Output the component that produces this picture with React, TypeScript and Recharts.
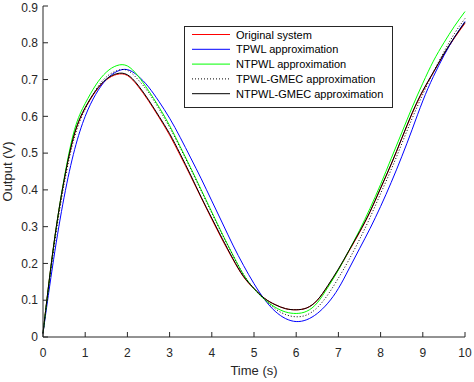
import React from 'react';
import { LineChart, Line, XAxis, YAxis, Legend } from 'recharts';

const time = [0, 0.25, 0.5, 0.75, 1, 1.25, 1.5, 1.75, 2, 2.25, 2.5, 2.75, 3, 3.25, 3.5, 3.75, 4, 4.25, 4.5, 4.75, 5, 5.25, 5.5, 5.75, 6, 6.25, 6.5, 6.75, 7, 7.25, 7.5, 7.75, 8, 8.25, 8.5, 8.75, 9, 9.25, 9.5, 9.75, 10];

const originalSystem = [0.01, 0.245, 0.425, 0.553, 0.622, 0.668, 0.699, 0.714, 0.711, 0.682, 0.642, 0.597, 0.549, 0.494, 0.437, 0.378, 0.32, 0.264, 0.211, 0.164, 0.131, 0.105, 0.088, 0.077, 0.074, 0.079, 0.1, 0.138, 0.183, 0.233, 0.284, 0.34, 0.404, 0.469, 0.539, 0.608, 0.668, 0.719, 0.768, 0.813, 0.853];
const tpwl = [0.01, 0.21, 0.38, 0.51, 0.6, 0.66, 0.7, 0.722, 0.727, 0.71, 0.68, 0.64, 0.595, 0.543, 0.487, 0.43, 0.37, 0.31, 0.25, 0.195, 0.145, 0.102, 0.07, 0.05, 0.042, 0.047, 0.064, 0.092, 0.132, 0.185, 0.24, 0.295, 0.355, 0.42, 0.49, 0.565, 0.642, 0.708, 0.765, 0.815, 0.858];
const ntpwl = [0.01, 0.245, 0.43, 0.565, 0.635, 0.685, 0.72, 0.738, 0.737, 0.71, 0.67, 0.625, 0.575, 0.518, 0.46, 0.4, 0.34, 0.28, 0.223, 0.17, 0.131, 0.102, 0.081, 0.068, 0.064, 0.07, 0.093, 0.135, 0.182, 0.235, 0.29, 0.35, 0.415, 0.485, 0.555, 0.625, 0.69, 0.75, 0.8, 0.845, 0.885];
const tpwlGmec = [0.01, 0.235, 0.415, 0.545, 0.62, 0.672, 0.707, 0.724, 0.725, 0.7, 0.665, 0.62, 0.57, 0.515, 0.457, 0.397, 0.337, 0.278, 0.222, 0.17, 0.132, 0.102, 0.077, 0.061, 0.055, 0.06, 0.08, 0.115, 0.16, 0.21, 0.265, 0.325, 0.39, 0.455, 0.525, 0.595, 0.66, 0.72, 0.775, 0.825, 0.866];
const ntpwlGmec = [0.01, 0.247, 0.427, 0.555, 0.624, 0.67, 0.701, 0.716, 0.713, 0.685, 0.645, 0.6, 0.553, 0.498, 0.44, 0.38, 0.323, 0.267, 0.213, 0.165, 0.132, 0.105, 0.088, 0.077, 0.074, 0.079, 0.1, 0.14, 0.185, 0.235, 0.286, 0.341, 0.405, 0.47, 0.54, 0.61, 0.67, 0.72, 0.77, 0.815, 0.856];

const xTicks = [0, 1, 2, 3, 4, 5, 6, 7, 8, 9, 10];
const yTicks = [0, 0.1, 0.2, 0.3, 0.4, 0.5, 0.6, 0.7, 0.8, 0.9];

const seriesNames = ['Original system', 'TPWL approximation', 'NTPWL approximation', 'TPWL-GMEC approximation', 'NTPWL-GMEC approximation'];
const seriesKeys = ['orig', 'tpwl', 'ntpwl', 'tpwlGmec', 'ntpwlGmec'];
const seriesColors = ['#ff0000', '#0000ff', '#00ff00', '#000000', '#000000'];
const seriesDash = [undefined, undefined, undefined, '1 2', undefined];

const data = time.map((t, i) => ({
  t,
  orig: originalSystem[i],
  tpwl: tpwl[i],
  ntpwl: ntpwl[i],
  tpwlGmec: tpwlGmec[i],
  ntpwlGmec: ntpwlGmec[i],
}));

const FONT = '"Liberation Sans", Arial, Helvetica, sans-serif';
const AXIS = '#262626';

const renderLegend = () => (
  <svg width={209} height={82} style={{ display: 'block' }}>
    <rect x={0.5} y={0.5} width={208} height={81} fill="#ffffff" stroke={AXIS} strokeWidth={1} />
    {seriesNames.map((name, i) => {
      const cy = 8.5 + i * 14.8;
      return (
        <g key={name}>
          <line x1={8} x2={46} y1={cy} y2={cy} stroke={seriesColors[i]} strokeWidth={1} strokeDasharray={seriesDash[i]} />
          <text x={52} y={cy + 4} fontSize={11} fontFamily={FONT} fill="#000">{name}</text>
        </g>
      );
    })}
  </svg>
);

const yFmt = (v: number) => (v === 0 ? '0' : v.toFixed(1));
const blank = () => '';

export default function App() {
  return (
    <div style={{ position: 'absolute', left: 0, top: 0, background: '#fff' }}>
      <LineChart width={474} height={382} data={data} margin={{ top: 6, right: 9, bottom: 0, left: 0 }}>
        <XAxis
          dataKey="t"
          type="number"
          domain={[0, 10]}
          ticks={xTicks}
          height={45}
          tickSize={-5}
          tickMargin={16}
          stroke={AXIS}
          tick={{ fill: AXIS, fontSize: 12, fontFamily: FONT }}
          label={{ value: 'Time (s)', position: 'insideBottom', offset: 7, fill: AXIS, fontSize: 13, fontFamily: FONT }}
        />
        <XAxis
          xAxisId="top"
          orientation="top"
          dataKey="t"
          type="number"
          domain={[0, 10]}
          ticks={xTicks}
          height={0}
          tickSize={-5}
          stroke={AXIS}
          tickFormatter={blank}
        />
        <YAxis
          type="number"
          domain={[0, 0.9]}
          ticks={yTicks}
          width={43}
          tickSize={-5}
          tickMargin={10}
          stroke={AXIS}
          tickFormatter={yFmt}
          tick={{ fill: AXIS, fontSize: 12, fontFamily: FONT }}
          label={({ viewBox }: any) => {
            const cy = viewBox.y + viewBox.height / 2;
            const cx = 11.5;
            return (
              <text x={cx} y={cy} transform={`rotate(-90 ${cx} ${cy})`} textAnchor="middle" fontSize={13} fontFamily={FONT} fill={AXIS}>
                Output (V)
              </text>
            );
          }}
        />
        <YAxis
          yAxisId="right"
          orientation="right"
          type="number"
          domain={[0, 0.9]}
          ticks={yTicks}
          width={0}
          tickSize={-5}
          stroke={AXIS}
          tickFormatter={blank}
        />
        <Legend
          layout="horizontal"
          verticalAlign="middle"
          align="center"
          content={renderLegend}
          wrapperStyle={{ left: 184, top: 26, width: 209, height: 82 }}
        />
        {seriesKeys.map((k, i) => (
          <Line
            key={k}
            dataKey={k}
            name={seriesNames[i]}
            type="natural"
            stroke={seriesColors[i]}
            strokeWidth={1}
            strokeDasharray={seriesDash[i]}
            dot={false}
            activeDot={false}
            isAnimationActive={false}
          />
        ))}
      </LineChart>
    </div>
  );
}
